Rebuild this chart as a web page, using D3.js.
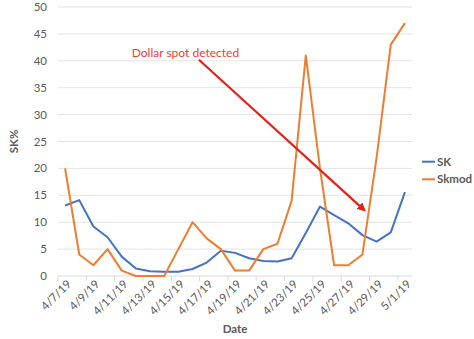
<!DOCTYPE html>
<html>
<head>
<meta charset="utf-8">
<script src="https://cdn.jsdelivr.net/npm/d3@7"></script>
<style>
  body { margin: 0; background: #fff; }
  svg { display: block; font-family: Lato, "Open Sans", sans-serif; }
</style>
</head>
<body>
<svg id="chart" width="474" height="339"></svg>
<script>
// data
const dates = ['4/7/19','4/8/19','4/9/19','4/10/19','4/11/19','4/12/19','4/13/19','4/14/19','4/15/19',
  '4/16/19','4/17/19','4/18/19','4/19/19','4/20/19','4/21/19','4/22/19','4/23/19','4/24/19','4/25/19',
  '4/26/19','4/27/19','4/28/19','4/29/19','4/30/19','5/1/19'];
const sk = [13.1,14.1,9.2,7.2,3.6,1.4,0.9,0.8,0.8,1.3,2.5,4.7,4.3,3.3,2.8,2.7,3.3,8.0,12.9,11.3,9.8,7.6,6.4,8.1,15.6];
const skmod = [20,4,2,5,1,0,0,0,5,10,7,5,1,1,5,6,14,41,20,2,2,4,22,43,47];
const yTicks = [0,5,10,15,20,25,30,35,40,45,50];
const seriesNames = ['SK', 'Skmod'];
const seriesColors = ['#4472C4', '#ED7D31'];
// annotation in data units: [category index, value]
const noteText = 'Dollar spot detected';
const notePos = [8.5, 40.7];
const arrowFrom = [9.45, 40.2];
const arrowTo = [21.15, 12.2];

const svg = d3.select('#chart');
const plotLeft = 58, plotRight = 412, plotTop = 7, plotBottom = 276;

const x = d3.scaleBand().domain(dates).range([plotLeft, plotRight]).padding(0);
const xi = d3.scaleLinear().domain([0, dates.length - 1])
  .range([x(dates[0]) + x.bandwidth() / 2, x(dates[dates.length - 1]) + x.bandwidth() / 2]);
const y = d3.scaleLinear().domain([0, 50]).range([plotBottom, plotTop]);

// gridlines
svg.append('g').selectAll('line').data(yTicks.filter(d => d > 0)).join('line')
  .attr('x1', plotLeft).attr('x2', plotRight)
  .attr('y1', d => y(d)).attr('y2', d => y(d))
  .attr('stroke', '#e3e3e3').attr('stroke-width', 1);

// y axis labels
svg.append('g').selectAll('text').data(yTicks).join('text')
  .attr('x', 47).attr('y', d => y(d)).attr('dy', '0.35em')
  .attr('text-anchor', 'end').attr('font-size', 11.5).attr('fill', '#595959')
  .text(d => d);

// x axis line and ticks every 2 categories at band edges
svg.append('line').attr('x1', plotLeft).attr('x2', plotRight).attr('y1', plotBottom).attr('y2', plotBottom)
  .attr('stroke', '#d9d9d9');
const edgeIdx = d3.range(0, dates.length + 1, 2);
svg.append('g').selectAll('line').data(edgeIdx).join('line')
  .attr('x1', i => plotLeft + i * x.bandwidth()).attr('x2', i => plotLeft + i * x.bandwidth())
  .attr('y1', plotBottom).attr('y2', plotBottom + 5)
  .attr('stroke', '#d9d9d9');

const labelDates = dates.filter((d, i) => i % 2 === 0);
svg.append('g').selectAll('text').data(labelDates).join('text')
  .attr('transform', d => `translate(${x(d) + x.bandwidth() / 2 + 4},${plotBottom + 6}) rotate(-45)`)
  .attr('text-anchor', 'end').attr('dy', '0.35em')
  .attr('font-size', 11.5).attr('fill', '#595959')
  .text(d => d);

// axis titles
svg.append('text').attr('x', (plotLeft + plotRight) / 2).attr('y', 333)
  .attr('text-anchor', 'middle').attr('font-size', 11.5).attr('font-weight', 'bold').attr('fill', '#595959')
  .text('Date');
svg.append('text').attr('transform', `translate(18,${(plotTop + plotBottom) / 2}) rotate(-90)`)
  .attr('text-anchor', 'middle').attr('font-size', 11.5).attr('font-weight', 'bold').attr('fill', '#595959')
  .text('SK%');

// lines
const line = d3.line().x((d, i) => x(dates[i]) + x.bandwidth() / 2).y(d => y(d));
[sk, skmod].forEach((s, k) => {
  svg.append('path').datum(s)
    .attr('fill', 'none').attr('stroke', seriesColors[k]).attr('stroke-width', 2)
    .attr('stroke-linejoin', 'round')
    .attr('d', line);
});

// annotation
svg.append('defs').append('marker')
  .attr('id', 'arrow').attr('viewBox', '0 0 10 10').attr('refX', 8).attr('refY', 5)
  .attr('markerWidth', 4).attr('markerHeight', 4).attr('orient', 'auto')
  .append('path').attr('d', 'M0,0L10,5L0,10z').attr('fill', '#E3211B');
svg.append('line')
  .attr('x1', xi(arrowFrom[0])).attr('y1', y(arrowFrom[1]))
  .attr('x2', xi(arrowTo[0])).attr('y2', y(arrowTo[1]))
  .attr('stroke', '#E3211B').attr('stroke-width', 2.2)
  .attr('marker-end', 'url(#arrow)');
svg.append('text').attr('x', xi(notePos[0])).attr('y', y(notePos[1]))
  .attr('text-anchor', 'middle').attr('font-size', 12).attr('fill', '#E8403A')
  .text(noteText);

// legend
const leg = svg.append('g').selectAll('g').data(seriesNames).join('g')
  .attr('transform', (d, i) => `translate(422,${161.7 + i * 17.6})`);
leg.append('line').attr('x1', 0).attr('x2', 13)
  .attr('stroke', (d, i) => seriesColors[i]).attr('stroke-width', 2);
leg.append('text').attr('x', 15).attr('dy', '0.35em')
  .attr('font-size', 11.5).attr('font-weight', 'bold').attr('fill', '#595959')
  .text(d => d);
</script>
</body>
</html>
